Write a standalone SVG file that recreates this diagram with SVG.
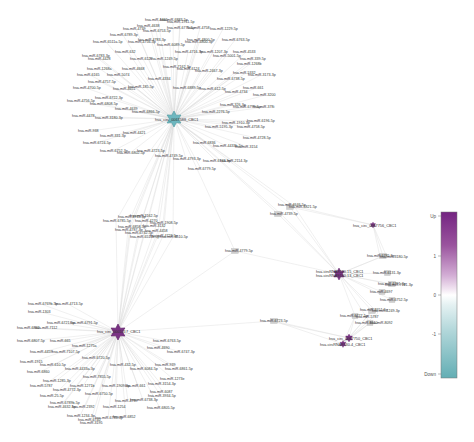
<svg xmlns="http://www.w3.org/2000/svg" xmlns:xlink="http://www.w3.org/1999/xlink" width="474" height="442" viewBox="0 0 474 442">
<style>
.m{font-family:"Liberation Sans",Arial,sans-serif;font-size:3.6px;fill:#333}
.c{font-family:"Liberation Sans",Arial,sans-serif;font-size:3.8px;fill:#333}
.e{fill:none;stroke:#d9d9d9;stroke-width:0.4}
.b{fill:#cfcfcf;stroke:#b0b0b0;stroke-width:0.3}
.tl{font-family:"Liberation Sans",Arial,sans-serif;font-size:4.6px;fill:#555;text-anchor:end}
.st{stroke-width:0.08;stroke-linejoin:round}
</style>
<defs>
<path id="star" d="M0,-1L0.275,-0.476L0.866,-0.5L0.55,0L0.866,0.5L0.275,0.476L0,1L-0.275,0.476L-0.866,0.5L-0.55,0L-0.866,-0.5L-0.275,-0.476Z"/>
<linearGradient id="cb" x1="0" y1="0" x2="0" y2="1">
<stop offset="0" stop-color="#742481"/>
<stop offset="0.2" stop-color="#9a549e"/>
<stop offset="0.38" stop-color="#d2acd4"/>
<stop offset="0.47" stop-color="#f3e8f3"/>
<stop offset="0.5" stop-color="#ffffff"/>
<stop offset="0.56" stop-color="#e4f1f2"/>
<stop offset="0.72" stop-color="#b0d6d9"/>
<stop offset="1" stop-color="#63aeb4"/>
</linearGradient>
</defs>
<rect width="474" height="442" fill="#ffffff"/>
<g id="connectors">
<path class="e" d="M174 119L158 20M174 119L173 20M174 119L180 22M174 119L150 26M174 119L136 29M174 119L180 28M174 119L200 28M174 119L223 29M174 119L156 31M174 119L123 35M174 119L151 39M174 119L200 40M174 119L235 40M174 119L106 42M174 119L141 42M174 119L170 45M174 119L198 42M174 119L128 52M174 119L188 52M174 119L213 52M174 119L246 52M174 119L95 56M174 119L226 56M174 119L101 59M174 119L143 59M174 119L163 59M174 119L253 59M174 119L250 64M174 119L176 67M174 119L100 69M174 119L135 69M174 119L190 69M174 119L208 71M174 119L246 73M174 119L261 75M174 119L90 75M174 119L120 75M174 119L161 79M174 119L230 79M174 119L101 82M174 119L86 88M174 119L126 89M174 119L141 87M174 119L186 88M174 119L213 89M174 119L256 88M174 119L238 92M174 119L266 95M174 119L108 98M174 119L80 101M174 119L103 104M174 119L233 105M174 119L246 107M174 119L266 107M174 119L128 109M174 119L145 112M174 119L215 112M174 119L85 116M174 119L108 118M174 119L260 121M174 119L235 123M174 119L218 127M174 119L250 127M174 119L91 131M174 119L136 133M174 119L113 136M174 119L256 138M174 119L96 143M174 119L206 143M174 119L226 146M174 119L248 147M174 119L113 151M174 119L150 151M174 119L130 153M174 119L168 156M174 119L186 159M174 119L216 161M174 119L233 161M174 119L201 169"/>
<path class="e" d="M174 119L131 217M174 119L143 216M174 119L116 221M174 119L148 221M174 119L163 223M174 119L156 226M174 119L131 227M174 119L128 230M174 119L158 231M174 119L138 233M174 119L163 236M174 119L143 237M174 119L173 237M118 332L131 217M118 332L143 216M118 332L116 221M118 332L148 221M118 332L163 223M118 332L156 226M118 332L131 227M118 332L128 230M118 332L158 231M118 332L138 233M118 332L163 236M118 332L143 237M118 332L173 237"/>
<path class="e" d="M118 332L41 304M118 332L68 304M118 332L41 312M118 332L60 323M118 332L83 323M118 332L30 328M118 332L48 328M118 332L30 341M118 332L63 341M118 332L166 341M118 332L85 346M118 332L160 348M118 332L43 352M118 332L65 352M118 332L180 352M118 332L95 358M118 332L33 362M118 332L53 365M118 332L123 365M118 332L168 365M118 332L78 369M118 332L143 369M118 332L178 369M118 332L40 372M118 332L96 377M118 332L173 379M118 332L56 381M118 332L161 384M118 332L43 386M118 332L83 386M118 332L115 386M118 332L138 386M118 332L66 390M118 332L163 392M118 332L98 394M118 332L53 396M118 332L161 396M118 332L128 401M118 332L143 400M118 332L63 403M118 332L61 407M118 332L85 407M118 332L116 407M118 332L160 408M118 332L80 416M118 332L91 420M118 332L108 418M118 332L126 417M118 332L93 423"/>
<path class="e" d="M174 119L235 251M118 332L235 251M235 251L339 274M174 119L290 207M174 119L278 214M174 119L294 206M174 119L282 215M290 207L339 274M278 214L339 274M294 206L339 274M282 215L339 274M290 207L373 225M294 206L373 225M118 332L274 321M274 321L349 338M274 321L343 344M274 322L349 338"/>
<path class="e" d="M339 274L383 256M339 274L386 255M339 274L388 273M339 274L392 284M339 274L395 285M339 274L382 292M339 274L392 300M339 274L372 311M339 274L355 316M339 274L370 323M339 274L378 313M373 225L383 256M373 225L386 255M373 225L380 257M349 338L372 311M349 338L355 316M349 338L370 323M343 344L372 311M343 344L355 316M343 344L370 323M349 338L378 313"/>
</g>
<g id="boxes">
<rect class="b" x="231.5" y="248.5" width="7" height="5"/>
<rect class="b" x="286.5" y="204.5" width="7" height="5"/>
<rect class="b" x="274.5" y="211.5" width="7" height="5"/>
<rect class="b" x="270.5" y="318.5" width="7" height="5"/>
<rect class="b" x="379.5" y="253.5" width="7" height="5"/>
<rect class="b" x="384.5" y="270.5" width="6" height="5"/>
<rect class="b" x="388.5" y="281.5" width="7" height="5"/>
<rect class="b" x="379" y="289.5" width="6" height="5"/>
<rect class="b" x="389" y="297.5" width="6" height="5"/>
<rect class="b" x="368.5" y="308.5" width="7" height="5"/>
<rect class="b" x="352" y="313.5" width="6" height="5"/>
<rect class="b" x="367" y="320.5" width="6" height="5"/>
</g>
<g id="hub-teal">
<use xlink:href="#star" href="#star" class="st" fill="#6db7bf" stroke="#4f9aa2" transform="translate(174,119) scale(8)"/>
<text class="c" x="155" y="121">hsa_circ_0067588_CBC1</text>
</g>
<g id="hub-left">
<use xlink:href="#star" href="#star" class="st" fill="#7a3384" stroke="#5e1f68" transform="translate(118,332) scale(8)"/>
<text class="c" x="97" y="333">hsa_circ_0001017_CBC1</text>
</g>
<g id="hub-right">
<use xlink:href="#star" href="#star" class="st" fill="#7a3384" stroke="#5e1f68" transform="translate(339,274) scale(6)"/>
<text class="c" x="316" y="273">hsa-circRNA9130-15_CBC1</text>
<text class="c" x="316" y="277">hsa-circRNA9130-13_CBC1</text>
</g>
<g id="hub-s1">
<use xlink:href="#star" href="#star" class="st" fill="#7a3384" stroke="#5e1f68" transform="translate(373,225) scale(3)"/>
<text class="c" x="353" y="226.5">hsa_circ_0067756_CBC1</text>
</g>
<g id="hub-s2">
<use xlink:href="#star" href="#star" class="st" fill="#7a3384" stroke="#5e1f68" transform="translate(349,338) scale(4)"/>
<text class="c" x="329" y="339.5">hsa_circ_0067750_CBC1</text>
</g>
<g id="hub-s3">
<use xlink:href="#star" href="#star" class="st" fill="#7a3384" stroke="#5e1f68" transform="translate(343,344) scale(3.5)"/>
<text class="c" x="320" y="345.5">hsa-circRNA9130-4_CBC1</text>
</g>
<g id="mirna-top" class="m">
<text x="145" y="21">hsa-miR-4466</text><text x="160" y="21">hsa-miR-6883-5p</text><text x="167" y="23">hsa-miR-1911-5p</text>
<text x="137" y="27">hsa-miR-4638</text><text x="123" y="30">hsa-miR-4739</text><text x="167" y="29">hsa-miR-6775-5p</text><text x="187" y="29">hsa-miR-4758</text><text x="210" y="30">hsa-miR-1229-5p</text>
<text x="143" y="32">hsa-miR-6753-5p</text><text x="110" y="36">hsa-miR-6789-3p</text>
<text x="138" y="41">hsa-miR-4783-3p</text><text x="187" y="41">hsa-miR-4800-5p</text><text x="222" y="41">hsa-miR-6763-5p</text>
<text x="93" y="43">hsa-miR-6511a-5p</text><text x="128" y="43">hsa-miR-4756-3p</text><text x="157" y="46">hsa-miR-6089-5p</text><text x="185" y="43">hsa-miR-4800-3p</text>
<text x="115" y="53">hsa-miR-632</text><text x="175" y="53">hsa-miR-4716-3p</text><text x="200" y="53">hsa-miR-1207-3p</text><text x="233" y="53">hsa-miR-4533</text>
<text x="82" y="57">hsa-miR-6783-3p</text><text x="213" y="57">hsa-miR-5001-5p</text>
<text x="88" y="60">hsa-miR-4428</text><text x="130" y="60">hsa-miR-6127</text><text x="150" y="60">hsa-miR-1249-5p</text><text x="240" y="60">hsa-miR-339-5p</text>
<text x="237" y="65">hsa-miR-1268b</text><text x="163" y="68">hsa-miR-7162-3p</text>
<text x="87" y="70">hsa-miR-1268a</text><text x="122" y="70">hsa-miR-4668</text><text x="177" y="70">hsa-miR-6124</text><text x="195" y="72">hsa-miR-2467-3p</text>
<text x="233" y="74">hsa-miR-5332</text><text x="248" y="76">hsa-miR-3173-3p</text><text x="77" y="76">hsa-miR-6165</text><text x="107" y="76">hsa-miR-5074</text>
<text x="148" y="80">hsa-miR-4334</text><text x="217" y="80">hsa-miR-6738-5p</text><text x="88" y="83">hsa-miR-4757-5p</text>
<text x="73" y="89">hsa-miR-4700-5p</text><text x="113" y="90">hsa-miR-4651</text><text x="128" y="88">hsa-miR-185-5p</text><text x="173" y="89">hsa-miR-6889-5p</text><text x="200" y="90">hsa-miR-612-5p</text><text x="243" y="89">hsa-miR-661</text>
<text x="225" y="93">hsa-miR-4734</text><text x="253" y="96">hsa-miR-3200</text><text x="95" y="99">hsa-miR-6722-3p</text><text x="67" y="102">hsa-miR-4756-5p</text><text x="90" y="105">hsa-miR-6808-5p</text>
<text x="220" y="106">hsa-miR-326-3p</text><text x="233" y="108">hsa-miR-6799-5p</text><text x="253" y="108">hsa-miR-378i</text><text x="115" y="110">hsa-miR-4639</text>
<text x="132" y="113">hsa-miR-6866-5p</text><text x="202" y="113">hsa-miR-2276-5p</text><text x="72" y="117">hsa-miR-4478</text><text x="95" y="119">hsa-miR-3180-3p</text>
<text x="247" y="122">hsa-miR-6196-5p</text><text x="222" y="124">hsa-miR-1910-3p</text><text x="205" y="128">hsa-miR-5195-3p</text><text x="237" y="128">hsa-miR-4758-5p</text>
<text x="78" y="132">hsa-miR-938</text><text x="123" y="134">hsa-miR-4421</text><text x="100" y="137">hsa-miR-331-3p</text><text x="243" y="139">hsa-miR-4728-5p</text>
<text x="83" y="144">hsa-miR-6724-5p</text><text x="193" y="144">hsa-miR-6836</text><text x="213" y="147">hsa-miR-4433b-5p</text><text x="235" y="148">hsa-miR-3154</text>
<text x="100" y="152">hsa-miR-6752-3p</text><text x="137" y="152">hsa-miR-4723-5p</text><text x="117" y="154">hsa-miR-6802-5p</text>
<text x="155" y="157">hsa-miR-4749-5p</text><text x="173" y="160">hsa-miR-4793-3p</text><text x="203" y="162">hsa-miR-6743-5p</text><text x="220" y="162">hsa-miR-2114-3p</text><text x="188" y="170">hsa-miR-6779-5p</text>
</g>
<g id="mirna-mid" class="m">
<text x="118" y="218">hsa-miR-4763-3p</text><text x="130" y="217">hsa-miR-3162-5p</text><text x="103" y="222">hsa-miR-6785-5p</text><text x="135" y="222">hsa-miR-4270</text>
<text x="150" y="224">hsa-miR-1908-5p</text><text x="143" y="227">hsa-miR-3132</text><text x="118" y="228">hsa-miR-6858-5p</text><text x="115" y="231">hsa-miR-4787-3p</text>
<text x="145" y="232">hsa-miR-4458</text><text x="125" y="234">hsa-miR-6732-5p</text><text x="150" y="237">hsa-miR-4722-5p</text><text x="130" y="238">hsa-miR-6511b-5p</text><text x="160" y="238">hsa-miR-6510-5p</text>
</g>
<g id="mirna-shared" class="m">
<text x="225" y="252">hsa-miR-4779-5p</text>
<text x="278" y="206">hsa-miR-4646-5p</text><text x="289" y="208">hsa-miR-6821-5p</text>
<text x="270" y="215">hsa-miR-4739-5p</text>
<text x="260" y="322">hsa-miR-6723-5p</text>
<text x="367" y="257">hsa-miR-6785-5p</text><text x="380" y="258">hsa-miR-3180-5p</text>
<text x="373" y="274">hsa-miR-6131-3p</text>
<text x="378" y="285">hsa-miR-6791-3p</text><text x="385" y="286">hsa-miR-7161-3p</text>
<text x="370" y="293">hsa-miR-4697</text>
<text x="380" y="301">hsa-miR-6752-5p</text>
<text x="360" y="311">hsa-miR-4651-5p</text><text x="372" y="312">hsa-miR-1249-3p</text>
<text x="340" y="317">hsa-miR-6777-5p</text><text x="356" y="318">hsa-miR-5787</text>
<text x="355" y="324">hsa-miR-6510</text><text x="370" y="324">hsa-miR-8092</text>
</g>
<g id="mirna-left" class="m">
<text x="28" y="305">hsa-miR-6769b-5p</text><text x="55" y="305">hsa-miR-4713-5p</text><text x="28" y="313">hsa-miR-1303</text>
<text x="47" y="324">hsa-miR-6721-5p</text><text x="70" y="324">hsa-miR-6791-5p</text><text x="17" y="329">hsa-miR-6842</text><text x="35" y="329">hsa-miR-7112</text>
<text x="17" y="342">hsa-miR-6807-5p</text><text x="50" y="342">hsa-miR-665</text><text x="153" y="342">hsa-miR-6763-5p</text>
<text x="72" y="347">hsa-miR-1275a</text><text x="147" y="349">hsa-miR-4690</text>
<text x="30" y="353">hsa-miR-4459</text><text x="52" y="353">hsa-miR-7107-5p</text><text x="167" y="353">hsa-miR-6747-3p</text>
<text x="82" y="359">hsa-miR-6720-5p</text><text x="20" y="363">hsa-miR-1915</text>
<text x="40" y="366">hsa-miR-610-5p</text><text x="110" y="366">hsa-miR-432-5p</text><text x="155" y="366">hsa-miR-939</text>
<text x="65" y="370">hsa-miR-4433a-3p</text><text x="130" y="370">hsa-miR-6084-5p</text><text x="165" y="370">hsa-miR-6861-5p</text>
<text x="27" y="373">hsa-miR-6860</text><text x="83" y="378">hsa-miR-7855-5p</text><text x="160" y="380">hsa-miR-1273e</text>
<text x="43" y="382">hsa-miR-1285-3p</text><text x="148" y="385">hsa-miR-3154-3p</text>
<text x="30" y="387">hsa-miR-5787</text><text x="70" y="387">hsa-miR-1271b</text><text x="102" y="387">hsa-miR-1909-3p</text><text x="125" y="387">hsa-miR-661</text>
<text x="53" y="391">hsa-miR-4772-3p</text><text x="150" y="393">hsa-miR-6087</text><text x="85" y="395">hsa-miR-6750-5p</text>
<text x="40" y="397">hsa-miR-25-5p</text><text x="148" y="397">hsa-miR-3934-5p</text>
<text x="115" y="402">hsa-miR-4739</text><text x="130" y="401">hsa-miR-6738-3p</text><text x="50" y="404">hsa-miR-6789b-5p</text>
<text x="48" y="408">hsa-miR-4632-5p</text><text x="72" y="408">hsa-miR-2392</text><text x="103" y="408">hsa-miR-1254</text><text x="147" y="409">hsa-miR-6805-5p</text>
<text x="67" y="417">hsa-miR-1234-3p</text><text x="78" y="421">hsa-miR-6740</text><text x="95" y="419">hsa-miR-6785-3p</text><text x="113" y="418">hsa-miR-6852</text><text x="80" y="424">hsa-miR-3195</text>
</g>
<g id="legend">
<rect x="441" y="212" width="16" height="166" fill="url(#cb)" stroke="#777" stroke-width="0.5"/>
<path d="M438 216H441M438 256H441M438 295H441M438 334H441M438 374H441" stroke="#777" stroke-width="0.5"/>
<text class="tl" x="436" y="217.5">Up</text>
<text class="tl" x="436" y="257.5">1</text>
<text class="tl" x="436" y="296.5">0</text>
<text class="tl" x="436" y="335.5">-1</text>
<text class="tl" x="436" y="375.5">Down</text>
</g>
</svg>
